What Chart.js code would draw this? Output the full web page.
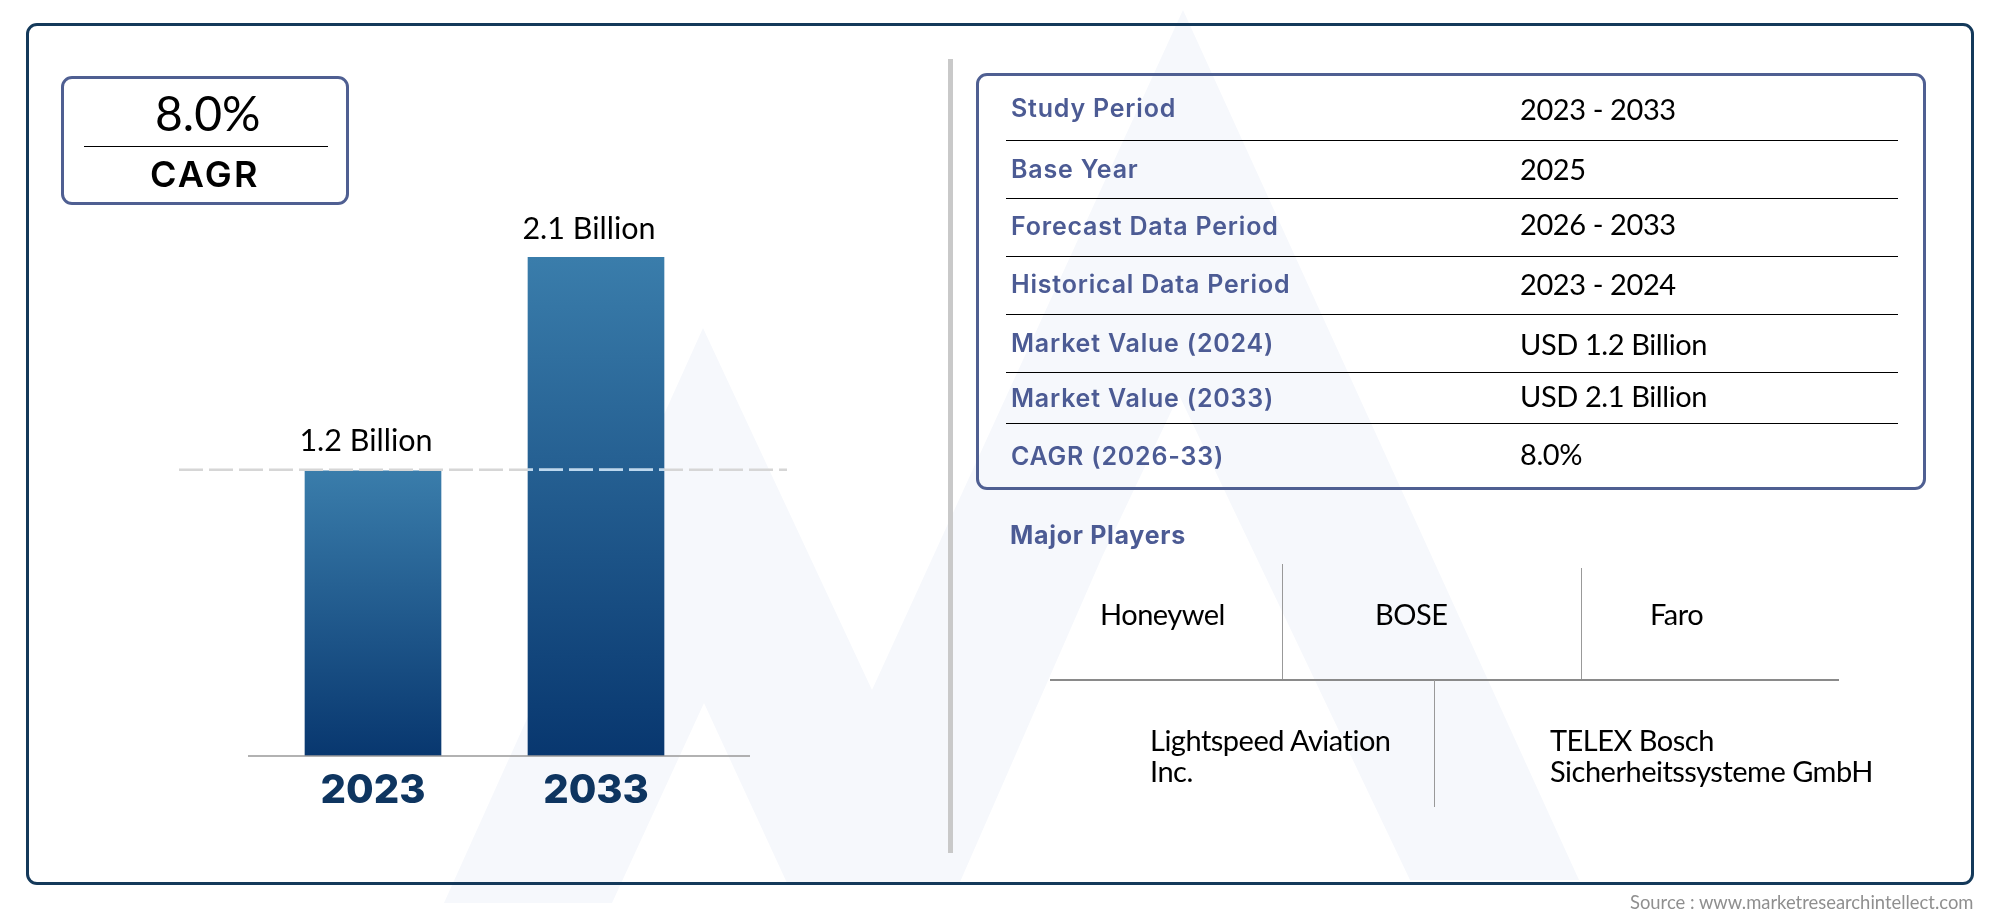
<!DOCTYPE html>
<html>
<head>
<meta charset="utf-8">
<title>Market size</title>
<script src="https://cdn.jsdelivr.net/npm/chart.js@4"></script>
<style>
  html, body { margin: 0; padding: 0; background: #fff; overflow: hidden; }
  #page { position: relative; width: 2000px; height: 917px; overflow: hidden; font-family: Lato, sans-serif; color: #000; }
  #mark { position: absolute; left: 0; top: 0; }
  #wheel { position: absolute; left: 0; top: 0; }
  .frame { position: absolute; left: 26px; top: 23px; width: 1942px; height: 856px; border: 3px solid #14395a; border-radius: 11px; }
  .box { position: absolute; border: 3px solid #4f5f92; border-radius: 11px; }
  .rule { position: absolute; }
  .txt { position: absolute; white-space: nowrap; transform: translateY(-50%); line-height: 1; }
  .head { font-family: Inter, sans-serif; font-weight: 600; font-size: 25px; letter-spacing: 0.8px; color: #4c5b94; }
  .val { font-size: 29px; letter-spacing: -0.4px; }
  .name { font-size: 29px; letter-spacing: -0.5px; }
</style>
</head>
<body>
<div id="page">
  <svg id="mark" width="2000" height="917"><polygon fill="#f6f8fc" points="444,903 703,328 872,690 1183,10 1579,880 1410,880 1179,395 1102,557 960,882 787,883 704,703 612,903"/></svg>
  <div class="frame"></div>
  <canvas id="wheel" width="2000" height="917"></canvas>
</div>
<script>
const categories = ["2023", "2033"];
const marketValues = [1.2, 2.1];
const valueLabels = ["1.2 Billion", "2.1 Billion"];

const cagrValue = "8.0%";
const cagrLabel = "CAGR";

const rowLabels = ["Study Period", "Base Year", "Forecast Data Period", "Historical Data Period", "Market Value (2024)", "Market Value (2033)", "CAGR (2026-33)"];
const rowValues = ["2023 - 2033", "2025", "2026 - 2033", "2023 - 2024", "USD 1.2 Billion", "USD 2.1 Billion", "8.0%"];

const playersTitle = "Major Players";
const playerNames = ["Honeywel", "BOSE", "Faro", "Lightspeed Aviation", "Inc.", "TELEX Bosch", "Sicherheitssysteme GmbH"];
const sourceText = "Source : www.marketresearchintellect.com";

// layout of the panels around the chart
const rowLabelY = [108, 169, 226, 284, 343, 398, 456];
const rowValueY = [108, 168, 223, 283, 343, 395, 453];
const rowLineY = [140, 198, 256, 314, 372, 423];
const playerX = [1100, 1375, 1650, 1150, 1150, 1550, 1550];
const playerY = [613, 613, 613, 739, 770, 739, 770];
const labelLift = [20, 18];

const page = document.getElementById("page");

function addText(text, x, y, cls, style) {
  const el = document.createElement("div");
  el.className = "txt " + (cls || "");
  el.textContent = text;
  el.style.left = x + "px";
  el.style.top = y + "px";
  if (style) Object.assign(el.style, style);
  page.appendChild(el);
  return el;
}

function addRule(x, y, w, h, color) {
  const el = document.createElement("div");
  el.className = "rule";
  el.style.cssText = `left:${x}px;top:${y}px;width:${w}px;height:${h}px;background:${color}`;
  page.appendChild(el);
}

function addBox(x, y, w, h) {
  const el = document.createElement("div");
  el.className = "box";
  el.style.cssText = `left:${x}px;top:${y}px;width:${w - 6}px;height:${h - 6}px`;
  page.appendChild(el);
}

// CAGR box
addBox(61, 76, 288, 129);
addRule(84, 146, 244, 1, "#000");
addText(cagrValue, 155, 113, "", { fontSize: "48px" });
addText(cagrLabel, 150, 174, "", { fontFamily: "Inter, sans-serif", fontWeight: 600, fontSize: "36px", letterSpacing: "2.2px" });

// separator
addRule(948, 59, 5, 794, "#c9c9c9");

// study table
addBox(976, 73, 950, 417);
rowLineY.forEach((y) => addRule(1006, y, 892, 1, "#000"));
rowLabels.forEach((t, i) => addText(t, 1011, rowLabelY[i], "head"));
rowValues.forEach((t, i) => addText(t, 1520, rowValueY[i], "val"));

// players
addText(playersTitle, 1010, 535, "head", { fontWeight: 700, letterSpacing: "0.7px" });
addRule(1050, 679, 789, 2, "#8a8a8a");
addRule(1282, 564, 1, 115, "#999");
addRule(1581, 568, 1, 111, "#999");
addRule(1434, 680, 1, 127, "#999");
playerNames.forEach((t, i) => addText(t, playerX[i], playerY[i], "name"));

addText(sourceText, 1630, 902, "", { fontSize: "18.4px", color: "#8f8f8f", fontFamily: "Lato, sans-serif" });

function strokeGuide(ctx, y, color) {
  ctx.strokeStyle = color;
  ctx.lineWidth = 2.5;
  ctx.setLineDash([24, 6]);
  ctx.beginPath();
  ctx.moveTo(179, y);
  ctx.lineTo(787, y);
  ctx.stroke();
  ctx.setLineDash([]);
}

// value labels above the bars, the 1.2 guide line and the long baseline
const barExtras = {
  id: "barExtras",
  afterDatasetsDraw(chart) {
    const { ctx, scales } = chart;
    const base = scales.y.getPixelForValue(0);
    const guide = scales.y.getPixelForValue(marketValues[0]) - 1;
    const bars = chart.getDatasetMeta(0).data;
    ctx.save();
    ctx.strokeStyle = "#999";
    ctx.lineWidth = 1.5;
    ctx.beginPath();
    ctx.moveTo(248, base);
    ctx.lineTo(750, base);
    ctx.stroke();

    strokeGuide(ctx, guide, "#d6d6d6");
    // the guide turns pale blue where it crosses the taller bar
    ctx.save();
    ctx.beginPath();
    const tall = bars[1];
    ctx.rect(tall.x - tall.width / 2, guide - 3, tall.width, 6);
    ctx.clip();
    strokeGuide(ctx, guide, "#bcd8ef");
    ctx.restore();

    ctx.fillStyle = "#000";
    ctx.font = "30.5px Lato, sans-serif";
    ctx.textAlign = "center";
    ctx.textBaseline = "alphabetic";
    bars.forEach((bar, i) => {
      ctx.fillText(valueLabels[i], bar.x - 7, bar.y - labelLift[i]);
    });
    ctx.restore();
  },
};

new Chart(document.getElementById("wheel"), {
  type: "bar",
  plugins: [barExtras],
  data: {
    labels: categories,
    datasets: [
      {
        data: marketValues,
        barThickness: 136,
        borderWidth: 0,
        backgroundColor(context) {
          const { chart, dataIndex } = context;
          if (!chart.chartArea) return "#08376f";
          const top = chart.scales.y.getPixelForValue(marketValues[dataIndex]);
          const bottom = chart.scales.y.getPixelForValue(0);
          const grad = chart.ctx.createLinearGradient(0, top, 0, bottom);
          grad.addColorStop(0, "#3a7dab");
          grad.addColorStop(1, "#08376f");
          return grad;
        },
      },
    ],
  },
  options: {
    responsive: false,
    animation: false,
    devicePixelRatio: 1,
    layout: { padding: { left: 261.5, right: 1292.5, top: 257, bottom: 101 } },
    plugins: { legend: { display: false }, tooltip: { enabled: false } },
    scales: {
      x: {
        grid: { display: false, drawTicks: false },
        border: { display: false },
        afterFit(scale) { scale.height = 60; },
        ticks: {
          color: "#0e3560",
          padding: 11,
          maxRotation: 0,
          font: { family: "Inter, sans-serif", size: 40, weight: "800" },
        },
      },
      y: { display: false, min: 0, max: 2.1 },
    },
  },
});
</script>
</body>
</html>
